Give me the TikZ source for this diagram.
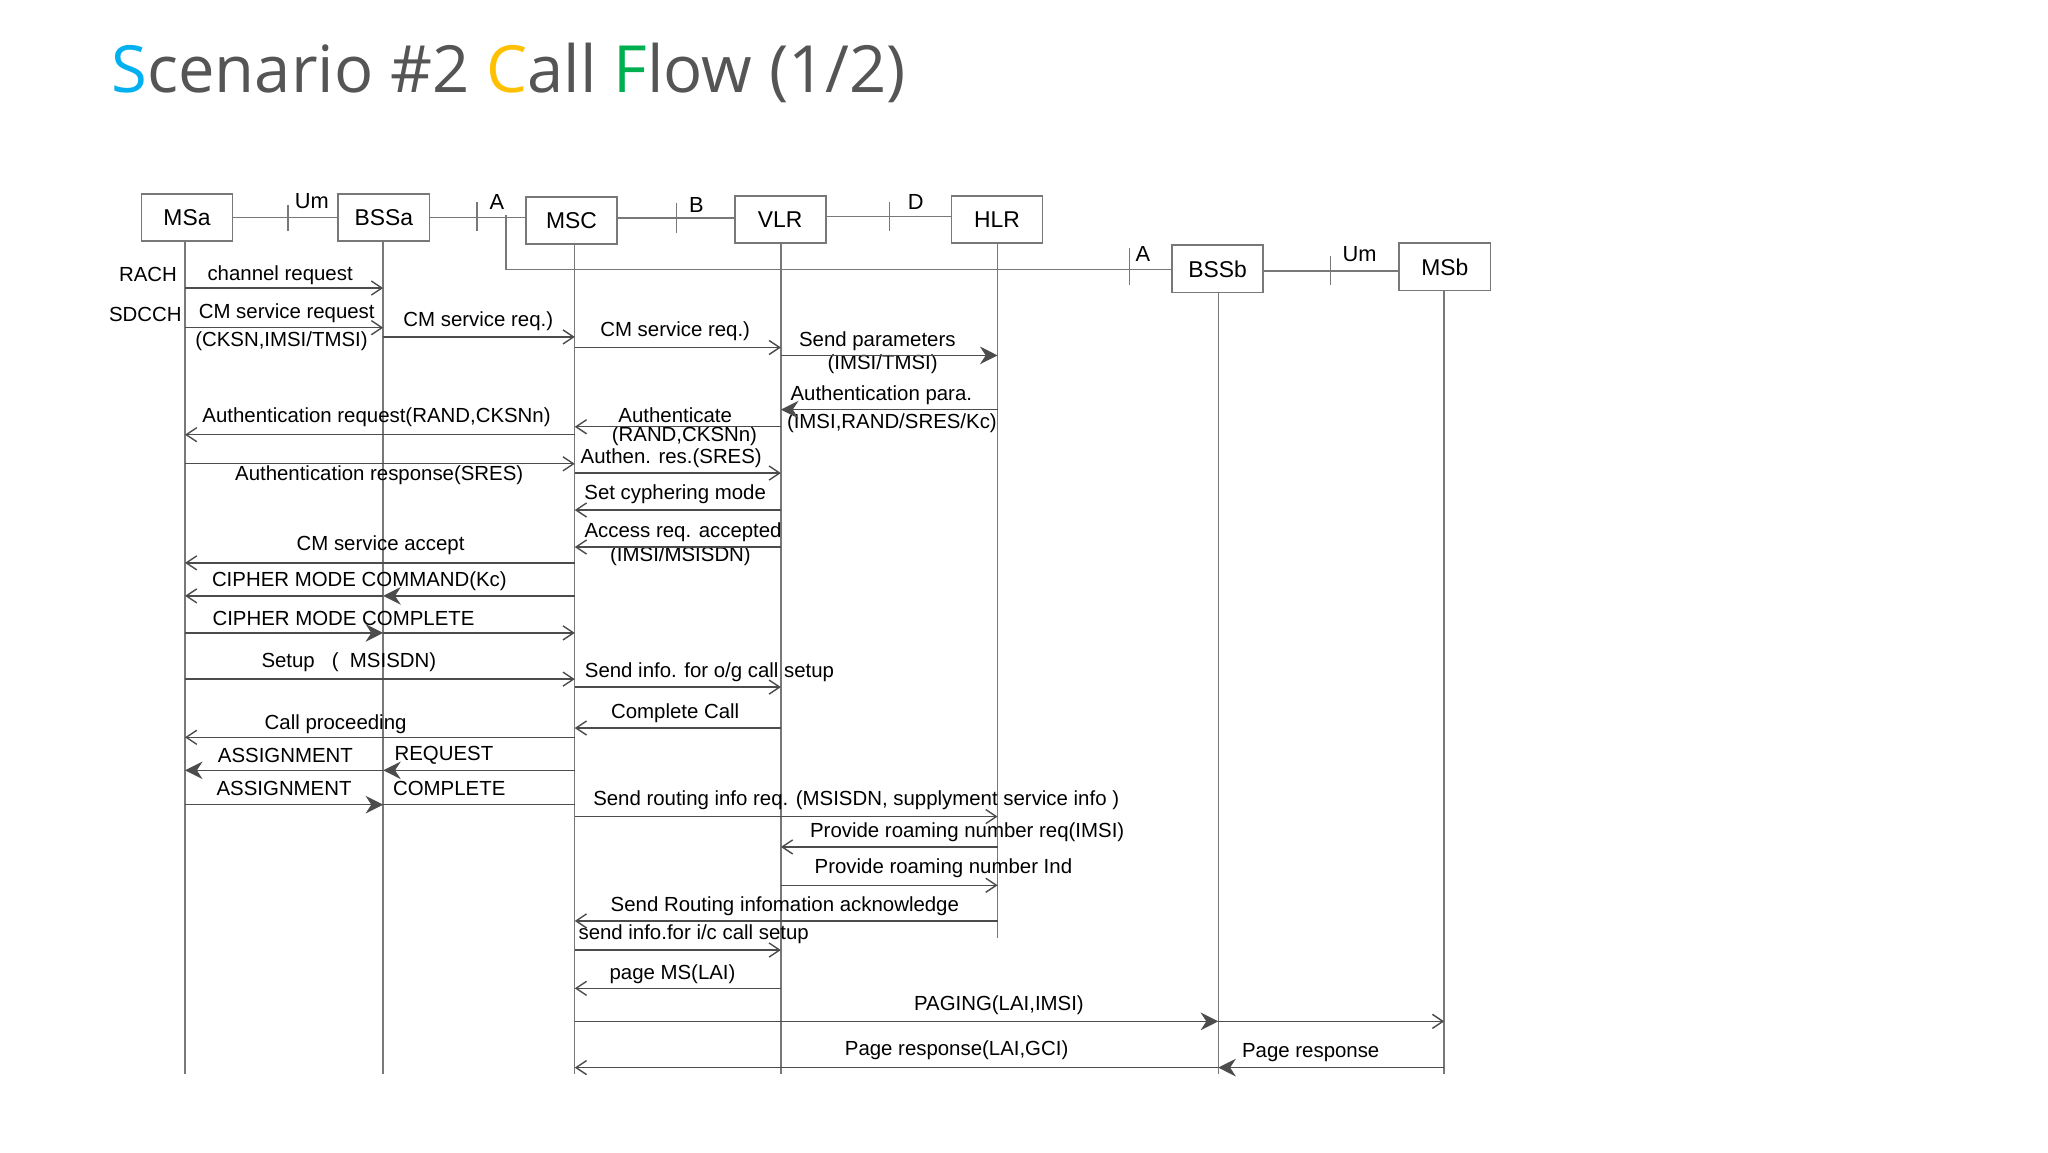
\documentclass[tikz,border=0pt]{standalone}
\usepackage{fontspec}
\setmainfont{Liberation Sans}
\newfontfamily\titlefont{Open Sans}
\usetikzlibrary{arrows.meta}
\definecolor{tgray}{RGB}{85,85,85}
\definecolor{tcyan}{RGB}{0,176,240}
\definecolor{torange}{RGB}{255,192,0}
\definecolor{tgreen}{RGB}{0,176,80}
\definecolor{lgray}{RGB}{120,120,120}
\begin{document}
\begin{tikzpicture}[x=0.0132cm,y=-0.0132cm,
  ent/.style={draw=lgray,line width=0.5pt,font=\fontsize{6.5}{8}\selectfont,inner sep=0},
  lab/.style={font=\fontsize{5.8}{7}\selectfont,inner sep=0},
  life/.style={draw=lgray,line width=0.4pt},
  msg/.style={draw=black!70,line width=0.4pt,-{Straight Barb[length=3pt,width=4pt]}},
  big/.style={draw=black!70,line width=0.4pt,-{Stealth[length=5pt,width=5pt]}},
  ifc/.style={draw=lgray,line width=0.4pt}]
\path[use as bounding box,fill=white] (0,0) rectangle (1550,872);
\node[anchor=base west,font=\titlefont\fontsize{18.5}{22}\selectfont,text=tgray,inner sep=0] (title) at (84,70)
 {\textcolor{tcyan}{S}cenario \#2 \textcolor{torange}{C}all \textcolor{tgreen}{F}low (1/2)};
% entities
\foreach \n/\x/\y in {MSa/141.5/164.5, BSSa/290.5/164.5, MSC/432.5/167, VLR/590.5/166, HLR/754.5/166, BSSb/921.5/203.5, MSb/1093.5/202}{
  \node[ent,minimum width=0.91cm,minimum height=0.47cm] (\n) at (\x,\y) {\n};
}
\foreach \n/\x/\e in {MSa/140/813, BSSa/290/813, MSC/435/813, VLR/591/813, HLR/755/710, BSSb/922/813, MSb/1093/813}{
  \draw[life] (\x,0 |- \n.south) -- (\x,\e);
}
% interfaces
\draw[ifc] (MSa.east) -- (BSSa.west); \draw[ifc] (218,155) -- (218,175); \node[lab,font=\fontsize{6.2}{7}\selectfont] (um1) at (236,152) {Um};
\draw[ifc] (BSSa.east) -- (MSC.west |- BSSa.east); \draw[ifc] (361,153) -- (361,175); \node[lab,font=\fontsize{6.2}{7}\selectfont] (a1) at (376,153) {A};
\draw[ifc] (383,163) -- (383,204) -- (BSSb.west |- 0,204); \draw[ifc] (855,188) -- (855,216); \node[lab,font=\fontsize{6.2}{7}\selectfont] (a2) at (865,192) {A};
\draw[ifc] (MSC.east |- 0,165) -- (VLR.west |- 0,165); \draw[ifc] (512,154) -- (512,176); \node[lab,font=\fontsize{6.2}{7}\selectfont] (b1) at (527,155) {B};
\draw[ifc] (VLR.east |- 0,164) -- (HLR.west |- 0,164); \draw[ifc] (673,153) -- (673,175); \node[lab,font=\fontsize{6.2}{7}\selectfont] (d1) at (693,153) {D};
\draw[ifc] (BSSb.east |- 0,205) -- (MSb.west |- 0,205); \draw[ifc] (1007,194) -- (1007,216); \node[lab,font=\fontsize{6.2}{7}\selectfont] (um2) at (1029,192) {Um};
% labels
\foreach \x/\y/\t in {112/208/RACH, 212/208/channel request, 110/238/SDCCH, 217/237/CM service request, 213/258/{(CKSN,IMSI/TMSI)},
 362/243/CM service req.), 511/251/CM service req.), 664/258/Send parameters, 668/276/{(IMSI/TMSI)},
 667/299/Authentication para., 675/320/{(IMSI,RAND/SRES/Kc)}, 511/314/Authenticate, 518/330/{(RAND,CKSNn)},
 285/316/{Authentication request(RAND,CKSNn)}, 287/360/Authentication response(SRES), 508/347/Authen. res.(SRES),
 511/374/Set cyphering mode, 517/403/Access req. accepted, 515/421/{(IMSI/MSISDN)}, 288/413/CM service accept,
 272/440/CIPHER MODE COMMAND(Kc), 260/468/CIPHER MODE COMPLETE, 264/501/{Setup \ \ ( \ MSISDN)},
 537/509/{Send info. for o/g call setup}, 511/540/Complete Call, 254/548/Call proceeding,
 216/572/ASSIGNMENT, 336/572/REQUEST, 215/597/ASSIGNMENT, 340/597/COMPLETE,
 648/606/{Send routing info req. (MSISDN, supplyment service info )}, 732/630/Provide roaming number req(IMSI),
 714/657/Provide roaming number Ind, 594/686/Send Routing infomation acknowledge, 525/707/{send info.for i/c call setup},
 509/737/page MS(LAI), 756/761/{PAGING(LAI,IMSI)}, 724/795/{Page response(LAI,GCI)}, 992/797/Page response}
 {\node[lab] at (\x,\y) {\t};}
% messages
\draw[msg] (140,218) -- (290,218);
\draw[msg] (140,248) -- (290,248);
\draw[msg] (290,255) -- (435,255);
\draw[msg] (435,263) -- (591,263);
\draw[big] (591,269) -- (755,269);
\draw[big] (755,310) -- (591,310);
\draw[msg] (591,323) -- (435,323);
\draw[msg] (435,329) -- (140,329);
\draw[msg] (140,351) -- (435,351);
\draw[msg] (435,358) -- (591,358);
\draw[msg] (591,386) -- (435,386);
\draw[msg] (591,414) -- (435,414);
\draw[msg] (435,426) -- (140,426);
\draw[big] (435,451) -- (290,451); \draw[msg] (290,451) -- (140,451);
\draw[big] (140,479) -- (290,479); \draw[msg] (290,479) -- (435,479);
\draw[msg] (140,514) -- (435,514);
\draw[msg] (435,520) -- (591,520);
\draw[msg] (591,551) -- (435,551);
\draw[msg] (435,558) -- (140,558);
\draw[big] (435,583) -- (290,583); \draw[big] (290,583) -- (140,583);
\draw[big] (140,609) -- (290,609); \draw[ifc,draw=black!70] (290,609) -- (435,609);
\draw[msg] (435,618) -- (755,618);
\draw[msg] (755,641) -- (591,641);
\draw[msg] (591,670) -- (755,670);
\draw[msg] (755,697) -- (435,697);
\draw[msg] (435,719) -- (591,719);
\draw[msg] (591,748) -- (435,748);
\draw[big] (435,773) -- (922,773); \draw[msg] (922,773) -- (1093,773);
\draw[msg] (922,808) -- (435,808); \draw[big] (1093,808) -- (922,808);
\end{tikzpicture}
\end{document}
